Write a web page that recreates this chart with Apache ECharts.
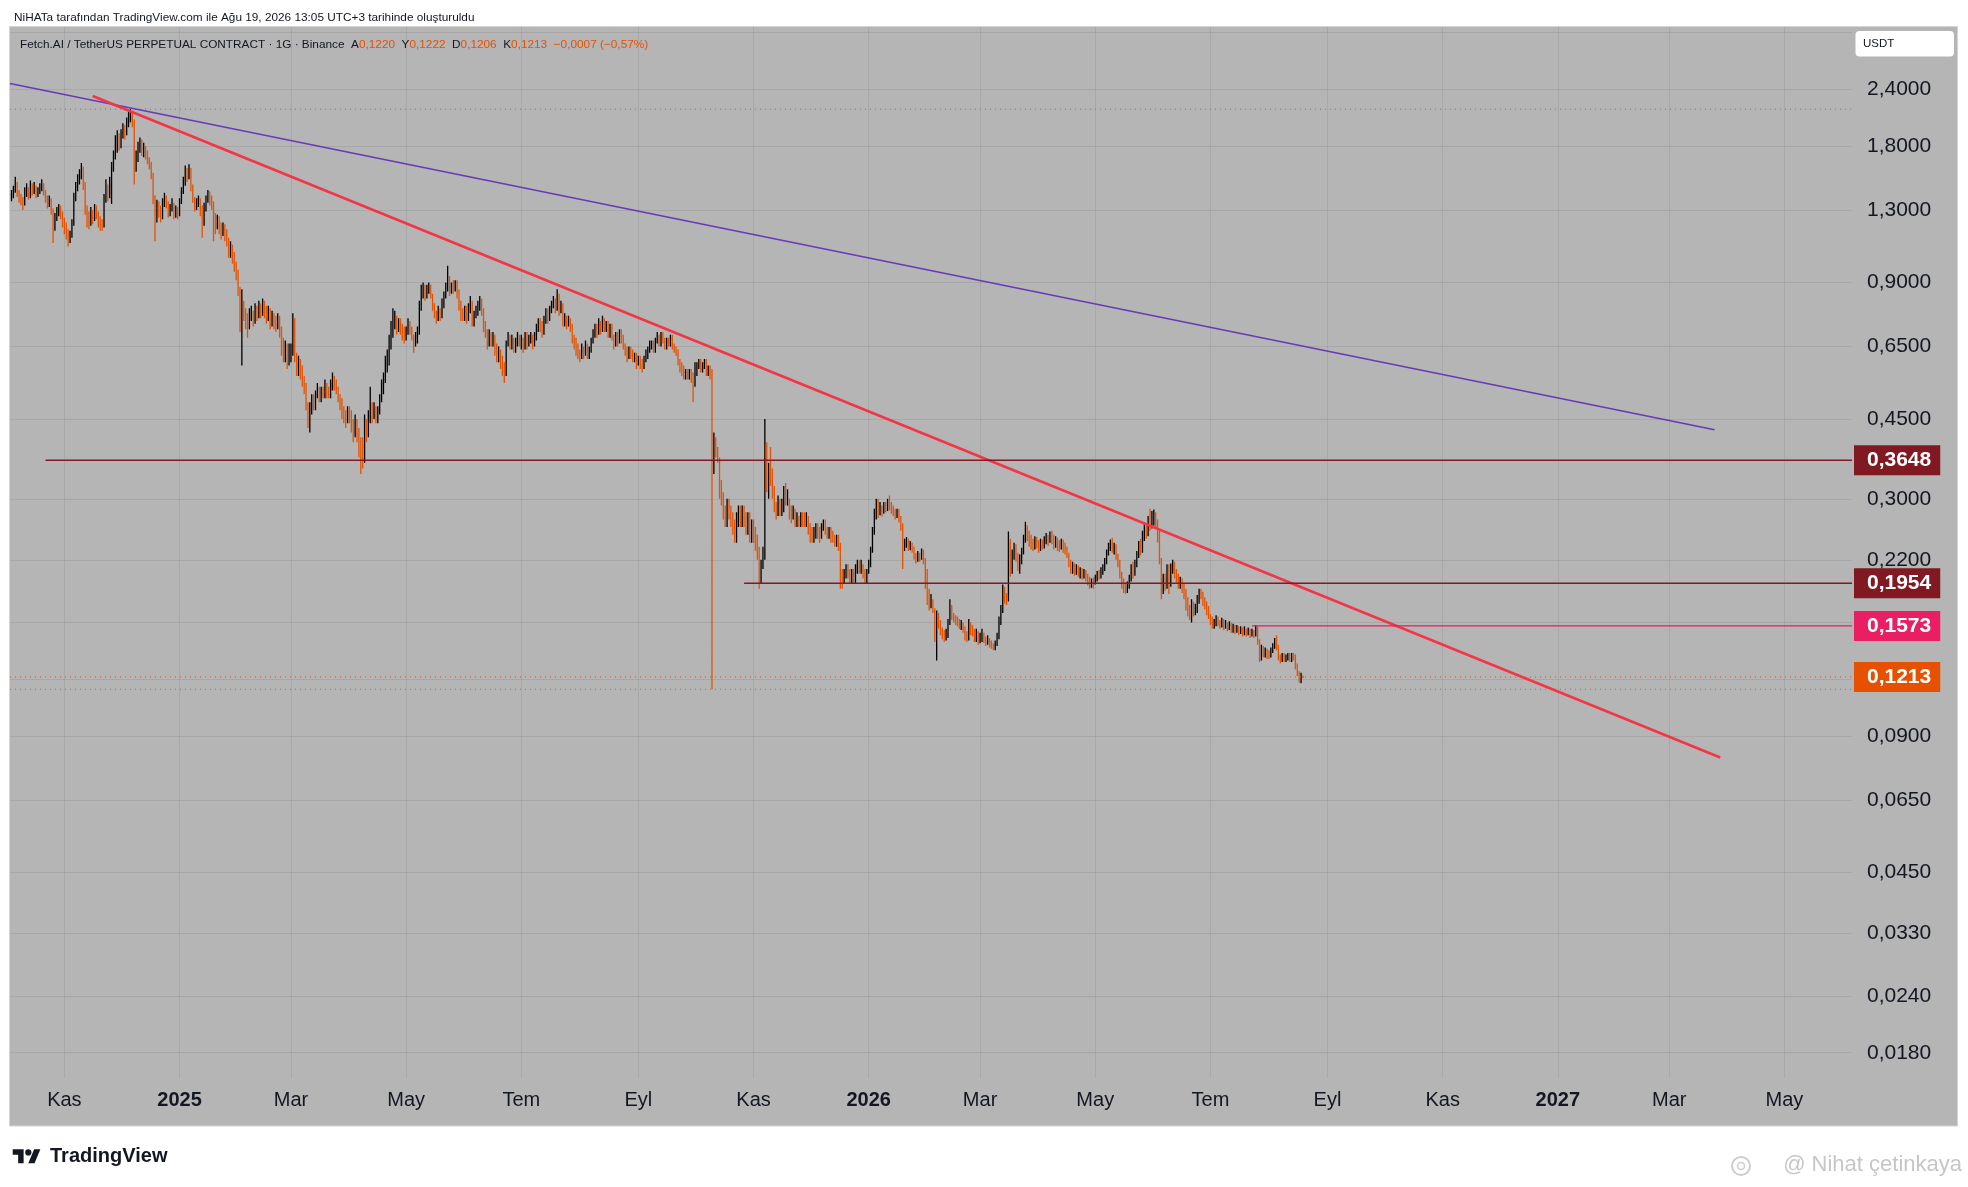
<!doctype html>
<html>
<head>
<meta charset="UTF-8">
<title>Fetch.AI / TetherUS PERPETUAL CONTRACT - 1G</title>
<script src="https://cdn.jsdelivr.net/npm/echarts@6.0.0/dist/echarts.min.js"></script>
<style>
  html, body { margin: 0; padding: 0; background: #ffffff; }
  #main { width: 1968px; height: 1187px; }
</style>
</head>
<body>
<div id="main"></div>
<script>
// daily bars (1G), one row per month; open of a day = previous close
var monthStarts = ['2024-10-04', '2024-11-01', '2024-12-01',
  '2025-01-01', '2025-02-01', '2025-03-01', '2025-04-01', '2025-05-01', '2025-06-01',
  '2025-07-01', '2025-08-01', '2025-09-01', '2025-10-01', '2025-11-01', '2025-12-01',
  '2026-01-01', '2026-02-01', '2026-03-01', '2026-04-01', '2026-05-01', '2026-06-01',
  '2026-07-01', '2026-08-01'];
var firstOpen = 1.40;

var closes = [
  [1.41,1.44,1.48,1.43,1.39,1.37,1.34,1.42,1.45,1.40,1.47,1.43,1.46,1.41,1.43,1.45,1.48,1.42,1.38,1.35,1.37,1.30,1.20,1.25,1.28,1.31,1.27,1.22],
  [1.19,1.16,1.12,1.14,1.21,1.38,1.45,1.52,1.55,1.60,1.48,1.30,1.27,1.22,1.28,1.25,1.31,1.27,1.24,1.22,1.20,1.37,1.45,1.40,1.48,1.60,1.72,1.80,1.86,1.83],
  [1.90,1.97,1.93,2.02,2.08,2.12,2.05,1.62,1.70,1.78,1.82,1.75,1.79,1.72,1.68,1.64,1.55,1.38,1.27,1.33,1.30,1.26,1.34,1.38,1.35,1.28,1.31,1.34,1.27,1.30,1.28],
  [1.36,1.43,1.50,1.58,1.55,1.60,1.46,1.38,1.33,1.35,1.37,1.30,1.22,1.32,1.36,1.40,1.38,1.34,1.25,1.21,1.24,1.20,1.17,1.19,1.15,1.12,1.05,1.08,1.02,0.98,0.94],
  [0.86,0.78,0.80,0.76,0.74,0.72,0.75,0.77,0.74,0.78,0.76,0.79,0.77,0.80,0.78,0.76,0.77,0.73,0.75,0.74,0.72,0.74,0.70,0.66,0.62,0.64,0.61,0.63],
  [0.63,0.74,0.62,0.58,0.60,0.57,0.55,0.53,0.48,0.45,0.47,0.50,0.48,0.51,0.52,0.50,0.52,0.51,0.53,0.52,0.51,0.53,0.55,0.54,0.52,0.50,0.49,0.47,0.46,0.45,0.46],
  [0.45,0.43,0.42,0.44,0.42,0.39,0.38,0.37,0.44,0.42,0.45,0.48,0.46,0.47,0.45,0.47,0.49,0.52,0.55,0.58,0.60,0.65,0.69,0.73,0.74,0.71,0.73,0.71,0.70,0.68],
  [0.70,0.73,0.71,0.68,0.66,0.67,0.70,0.80,0.85,0.88,0.84,0.86,0.88,0.84,0.80,0.77,0.75,0.78,0.76,0.80,0.84,0.88,0.91,0.86,0.88,0.87,0.89,0.86,0.80,0.77,0.76],
  [0.78,0.75,0.79,0.81,0.74,0.76,0.78,0.80,0.82,0.78,0.72,0.70,0.66,0.69,0.67,0.68,0.64,0.62,0.63,0.60,0.58,0.57,0.66,0.68,0.66,0.67,0.65,0.66,0.68,0.66],
  [0.67,0.65,0.69,0.66,0.67,0.68,0.66,0.68,0.71,0.73,0.72,0.70,0.74,0.77,0.75,0.78,0.80,0.82,0.79,0.84,0.78,0.80,0.74,0.75,0.73,0.74,0.72,0.68,0.66,0.65,0.63],
  [0.62,0.64,0.63,0.65,0.62,0.64,0.67,0.69,0.71,0.70,0.73,0.70,0.74,0.71,0.73,0.69,0.72,0.68,0.66,0.69,0.67,0.70,0.68,0.65,0.63,0.62,0.64,0.63,0.61,0.62,0.60],
  [0.61,0.60,0.59,0.61,0.62,0.64,0.65,0.66,0.64,0.67,0.68,0.66,0.69,0.67,0.65,0.67,0.66,0.68,0.65,0.64,0.63,0.60,0.59,0.58,0.56,0.57,0.56,0.57,0.56,0.52],
  [0.57,0.59,0.60,0.58,0.59,0.60,0.57,0.58,0.56,0.37,0.40,0.39,0.37,0.32,0.30,0.28,0.27,0.29,0.28,0.27,0.26,0.25,0.27,0.28,0.27,0.28,0.27,0.26,0.27,0.25,0.26],
  [0.25,0.24,0.23,0.20,0.21,0.225,0.38,0.33,0.35,0.34,0.31,0.29,0.28,0.30,0.28,0.29,0.31,0.30,0.30,0.28,0.275,0.28,0.27,0.27,0.265,0.275,0.27,0.265,0.27,0.26],
  [0.255,0.245,0.25,0.26,0.255,0.25,0.26,0.265,0.255,0.25,0.255,0.25,0.245,0.24,0.245,0.235,0.205,0.20,0.205,0.21,0.205,0.20,0.205,0.20,0.21,0.215,0.21,0.215,0.205,0.20,0.205],
  [0.215,0.23,0.255,0.275,0.29,0.28,0.285,0.28,0.29,0.285,0.295,0.29,0.285,0.28,0.275,0.28,0.27,0.26,0.235,0.24,0.243,0.235,0.238,0.232,0.225,0.22,0.226,0.222,0.23,0.22,0.205],
  [0.18,0.175,0.178,0.17,0.15,0.165,0.16,0.153,0.151,0.148,0.15,0.16,0.172,0.165,0.163,0.161,0.16,0.158,0.158,0.155,0.15,0.148,0.158,0.155,0.152,0.148,0.15,0.147],
  [0.148,0.15,0.146,0.145,0.147,0.144,0.142,0.14,0.143,0.148,0.162,0.17,0.19,0.182,0.18,0.25,0.21,0.225,0.235,0.225,0.215,0.222,0.23,0.245,0.26,0.25,0.245,0.24,0.238,0.245,0.24],
  [0.235,0.24,0.237,0.242,0.248,0.245,0.25,0.244,0.238,0.243,0.24,0.236,0.241,0.237,0.232,0.225,0.218,0.21,0.213,0.208,0.212,0.206,0.209,0.203,0.207,0.201,0.198,0.195,0.198,0.196],
  [0.2,0.205,0.203,0.208,0.212,0.218,0.228,0.235,0.24,0.232,0.236,0.225,0.218,0.205,0.198,0.192,0.19,0.193,0.2,0.21,0.205,0.215,0.225,0.238,0.23,0.248,0.26,0.252,0.268,0.262,0.27],
  [0.275,0.265,0.245,0.22,0.19,0.2,0.195,0.21,0.2,0.212,0.215,0.207,0.2,0.196,0.198,0.19,0.185,0.178,0.17,0.168,0.175,0.17,0.172,0.18,0.188,0.183,0.178,0.175,0.17,0.166],
  [0.162,0.158,0.16,0.163,0.16,0.158,0.161,0.157,0.159,0.156,0.158,0.155,0.157,0.154,0.156,0.153,0.155,0.152,0.154,0.151,0.153,0.15,0.152,0.15,0.156,0.145,0.135,0.14,0.137,0.138,0.136],
  [0.135,0.139,0.142,0.146,0.141,0.134,0.132,0.135,0.133,0.134,0.136,0.133,0.135,0.134,0.128,0.123,0.119,0.122,0.1213]
];

var highs = [
  [1.44,1.47,1.54,1.50,1.44,1.41,1.39,1.46,1.49,1.46,1.51,1.49,1.50,1.47,1.46,1.49,1.52,1.49,1.44,1.40,1.40,1.38,1.31,1.28,1.32,1.34,1.33,1.29],
  [1.25,1.22,1.18,1.17,1.24,1.42,1.50,1.56,1.60,1.65,1.62,1.50,1.33,1.29,1.32,1.30,1.34,1.33,1.29,1.26,1.24,1.41,1.52,1.48,1.54,1.66,1.76,1.90,1.95,1.92],
  [1.96,2.02,2.00,2.08,2.14,2.17,2.14,2.06,1.76,1.84,1.88,1.86,1.83,1.80,1.76,1.70,1.66,1.57,1.40,1.37,1.36,1.33,1.38,1.42,1.40,1.36,1.34,1.38,1.35,1.33,1.32],
  [1.38,1.46,1.54,1.63,1.61,1.64,1.61,1.48,1.39,1.38,1.40,1.38,1.33,1.35,1.40,1.44,1.43,1.40,1.36,1.28,1.27,1.26,1.22,1.22,1.21,1.18,1.13,1.11,1.09,1.05,1.00],
  [0.96,0.88,0.87,0.82,0.79,0.77,0.79,0.80,0.78,0.81,0.80,0.82,0.81,0.83,0.82,0.80,0.80,0.79,0.78,0.77,0.76,0.77,0.76,0.72,0.68,0.67,0.66,0.66],
  [0.66,0.77,0.75,0.63,0.62,0.61,0.59,0.56,0.54,0.49,0.49,0.51,0.51,0.52,0.54,0.53,0.53,0.53,0.55,0.54,0.53,0.55,0.57,0.56,0.55,0.53,0.51,0.50,0.48,0.47,0.48],
  [0.48,0.47,0.45,0.46,0.45,0.43,0.41,0.41,0.46,0.45,0.47,0.53,0.49,0.49,0.48,0.48,0.51,0.55,0.57,0.62,0.64,0.69,0.74,0.79,0.78,0.76,0.75,0.75,0.73,0.72],
  [0.72,0.75,0.74,0.72,0.69,0.70,0.72,0.82,0.89,0.90,0.89,0.89,0.90,0.89,0.85,0.81,0.78,0.80,0.79,0.83,0.86,0.90,0.98,0.93,0.90,0.91,0.91,0.91,0.87,0.82,0.79],
  [0.80,0.80,0.81,0.84,0.82,0.78,0.80,0.82,0.84,0.83,0.79,0.74,0.71,0.71,0.70,0.70,0.69,0.66,0.65,0.64,0.62,0.60,0.67,0.70,0.69,0.69,0.68,0.68,0.70,0.69],
  [0.69,0.68,0.70,0.70,0.69,0.70,0.69,0.70,0.73,0.75,0.75,0.74,0.76,0.79,0.79,0.80,0.82,0.84,0.83,0.87,0.85,0.82,0.81,0.77,0.76,0.76,0.75,0.73,0.69,0.68,0.66],
  [0.64,0.66,0.65,0.67,0.66,0.65,0.68,0.71,0.73,0.73,0.75,0.74,0.76,0.75,0.74,0.74,0.73,0.73,0.69,0.70,0.70,0.71,0.71,0.69,0.66,0.65,0.65,0.65,0.64,0.63,0.63],
  [0.62,0.62,0.61,0.62,0.64,0.65,0.67,0.67,0.67,0.68,0.70,0.69,0.70,0.70,0.68,0.68,0.68,0.69,0.69,0.66,0.65,0.64,0.61,0.60,0.59,0.58,0.58,0.58,0.58,0.57],
  [0.60,0.60,0.61,0.61,0.60,0.61,0.61,0.59,0.59,0.58,0.42,0.41,0.39,0.37,0.33,0.31,0.29,0.30,0.30,0.29,0.28,0.27,0.28,0.29,0.29,0.29,0.29,0.28,0.28,0.28,0.27],
  [0.27,0.26,0.25,0.235,0.22,0.235,0.45,0.40,0.36,0.39,0.35,0.32,0.295,0.305,0.30,0.30,0.32,0.325,0.315,0.30,0.29,0.29,0.285,0.28,0.275,0.28,0.28,0.28,0.28,0.275],
  [0.265,0.26,0.26,0.265,0.265,0.26,0.265,0.27,0.27,0.26,0.26,0.26,0.255,0.25,0.25,0.25,0.24,0.21,0.21,0.215,0.215,0.21,0.21,0.21,0.215,0.22,0.22,0.22,0.215,0.21,0.21],
  [0.22,0.235,0.26,0.285,0.30,0.30,0.295,0.29,0.295,0.295,0.30,0.305,0.295,0.29,0.285,0.285,0.285,0.275,0.265,0.245,0.247,0.245,0.242,0.24,0.235,0.228,0.23,0.228,0.233,0.232,0.222],
  [0.21,0.19,0.185,0.18,0.172,0.17,0.168,0.162,0.156,0.154,0.155,0.163,0.18,0.175,0.168,0.166,0.165,0.163,0.162,0.16,0.157,0.153,0.163,0.16,0.158,0.155,0.155,0.153],
  [0.152,0.155,0.152,0.149,0.15,0.148,0.146,0.144,0.146,0.152,0.165,0.175,0.194,0.192,0.186,0.254,0.245,0.232,0.24,0.238,0.228,0.226,0.234,0.25,0.267,0.262,0.255,0.25,0.245,0.248,0.247],
  [0.243,0.245,0.244,0.248,0.252,0.25,0.254,0.255,0.25,0.248,0.246,0.243,0.245,0.244,0.24,0.235,0.228,0.22,0.218,0.216,0.215,0.214,0.212,0.211,0.21,0.209,0.205,0.202,0.2,0.201],
  [0.204,0.208,0.209,0.212,0.215,0.222,0.232,0.24,0.244,0.246,0.24,0.238,0.227,0.22,0.207,0.2,0.196,0.197,0.204,0.215,0.218,0.22,0.23,0.242,0.245,0.255,0.266,0.265,0.275,0.285,0.282],
  [0.284,0.28,0.27,0.255,0.222,0.205,0.205,0.215,0.215,0.216,0.22,0.218,0.21,0.205,0.202,0.2,0.195,0.19,0.182,0.175,0.18,0.178,0.176,0.184,0.19,0.19,0.187,0.182,0.178,0.174],
  [0.167,0.165,0.163,0.166,0.165,0.162,0.164,0.163,0.162,0.16,0.161,0.16,0.159,0.158,0.158,0.157,0.157,0.156,0.157,0.155,0.156,0.155,0.155,0.154,0.158,0.157,0.147,0.143,0.142,0.141,0.14],
  [0.139,0.141,0.144,0.148,0.15,0.143,0.136,0.137,0.137,0.136,0.137,0.137,0.137,0.137,0.136,0.13,0.125,0.124,0.1222]
];

var lows = [
  [1.36,1.38,1.42,1.39,1.35,1.33,1.30,1.33,1.39,1.37,1.38,1.40,1.41,1.38,1.39,1.41,1.43,1.40,1.35,1.31,1.32,1.27,1.10,1.17,1.23,1.26,1.24,1.19],
  [1.15,1.12,1.08,1.10,1.13,1.20,1.36,1.43,1.48,1.52,1.44,1.27,1.19,1.18,1.20,1.21,1.23,1.24,1.19,1.17,1.17,1.19,1.35,1.36,1.38,1.34,1.58,1.68,1.74,1.76],
  [1.78,1.87,1.86,1.90,1.98,2.03,1.98,1.48,1.58,1.66,1.74,1.71,1.70,1.68,1.64,1.60,1.52,1.34,1.11,1.22,1.25,1.22,1.24,1.32,1.31,1.25,1.26,1.29,1.24,1.25,1.24],
  [1.26,1.34,1.41,1.47,1.50,1.52,1.43,1.35,1.29,1.30,1.32,1.26,1.13,1.20,1.29,1.35,1.33,1.30,1.11,1.15,1.18,1.15,1.12,1.14,1.11,1.08,1.02,1.02,0.99,0.95,0.91],
  [0.84,0.70,0.59,0.74,0.71,0.68,0.71,0.74,0.72,0.73,0.74,0.75,0.75,0.76,0.75,0.73,0.74,0.71,0.72,0.71,0.70,0.71,0.68,0.62,0.60,0.60,0.58,0.59],
  [0.60,0.62,0.60,0.56,0.56,0.55,0.53,0.51,0.47,0.43,0.42,0.46,0.47,0.47,0.50,0.49,0.49,0.50,0.50,0.50,0.50,0.50,0.52,0.52,0.51,0.49,0.47,0.45,0.44,0.43,0.44],
  [0.44,0.42,0.40,0.41,0.40,0.37,0.34,0.35,0.36,0.40,0.41,0.44,0.44,0.45,0.44,0.44,0.46,0.49,0.51,0.54,0.57,0.59,0.64,0.68,0.71,0.69,0.70,0.69,0.67,0.66],
  [0.67,0.69,0.69,0.67,0.63,0.65,0.66,0.69,0.78,0.83,0.82,0.83,0.85,0.83,0.78,0.75,0.73,0.74,0.74,0.75,0.79,0.83,0.86,0.84,0.85,0.85,0.86,0.83,0.78,0.74,0.74],
  [0.74,0.73,0.74,0.77,0.72,0.72,0.75,0.76,0.78,0.76,0.70,0.68,0.64,0.65,0.65,0.65,0.62,0.60,0.60,0.58,0.56,0.54,0.56,0.65,0.64,0.64,0.63,0.63,0.65,0.65],
  [0.64,0.63,0.64,0.64,0.65,0.66,0.64,0.65,0.67,0.70,0.70,0.68,0.69,0.73,0.73,0.74,0.77,0.79,0.77,0.78,0.76,0.77,0.72,0.72,0.71,0.72,0.70,0.66,0.64,0.62,0.61],
  [0.60,0.61,0.61,0.62,0.61,0.61,0.63,0.66,0.68,0.68,0.69,0.69,0.70,0.70,0.70,0.68,0.68,0.67,0.64,0.65,0.65,0.66,0.66,0.64,0.62,0.60,0.61,0.61,0.60,0.60,0.58],
  [0.59,0.58,0.57,0.58,0.60,0.61,0.63,0.64,0.63,0.63,0.66,0.65,0.65,0.66,0.64,0.64,0.65,0.65,0.64,0.63,0.62,0.59,0.57,0.56,0.55,0.55,0.55,0.55,0.54,0.49],
  [0.53,0.56,0.58,0.57,0.57,0.58,0.56,0.56,0.55,0.114,0.34,0.37,0.36,0.30,0.29,0.27,0.26,0.26,0.27,0.26,0.25,0.24,0.24,0.26,0.26,0.26,0.26,0.25,0.25,0.24,0.24],
  [0.24,0.23,0.22,0.19,0.195,0.21,0.22,0.31,0.30,0.32,0.30,0.28,0.27,0.275,0.275,0.275,0.28,0.29,0.29,0.27,0.265,0.27,0.26,0.26,0.26,0.26,0.26,0.26,0.26,0.25],
  [0.24,0.24,0.24,0.245,0.245,0.24,0.245,0.255,0.25,0.245,0.245,0.24,0.24,0.235,0.235,0.23,0.19,0.19,0.195,0.20,0.20,0.195,0.195,0.195,0.195,0.205,0.205,0.205,0.20,0.195,0.195],
  [0.205,0.212,0.228,0.25,0.27,0.272,0.276,0.274,0.278,0.28,0.282,0.283,0.278,0.275,0.27,0.272,0.266,0.255,0.21,0.23,0.234,0.23,0.231,0.228,0.22,0.216,0.218,0.218,0.22,0.215,0.19],
  [0.175,0.17,0.172,0.168,0.145,0.132,0.155,0.15,0.147,0.145,0.146,0.148,0.158,0.162,0.16,0.158,0.157,0.155,0.154,0.152,0.146,0.145,0.146,0.15,0.149,0.145,0.145,0.143],
  [0.144,0.145,0.144,0.142,0.143,0.141,0.14,0.139,0.139,0.142,0.147,0.158,0.168,0.176,0.175,0.178,0.202,0.205,0.22,0.218,0.208,0.205,0.215,0.226,0.24,0.242,0.235,0.232,0.23,0.232,0.233],
  [0.228,0.23,0.232,0.233,0.238,0.236,0.24,0.238,0.232,0.234,0.23,0.229,0.232,0.228,0.226,0.222,0.212,0.205,0.205,0.203,0.204,0.202,0.2,0.199,0.2,0.197,0.193,0.19,0.191,0.19],
  [0.194,0.197,0.199,0.2,0.204,0.208,0.215,0.225,0.23,0.228,0.226,0.22,0.212,0.2,0.19,0.186,0.185,0.186,0.19,0.197,0.2,0.203,0.212,0.222,0.225,0.228,0.242,0.245,0.248,0.255,0.258],
  [0.262,0.258,0.24,0.215,0.18,0.185,0.188,0.19,0.185,0.192,0.205,0.2,0.196,0.19,0.19,0.186,0.18,0.17,0.165,0.162,0.16,0.165,0.166,0.168,0.176,0.18,0.174,0.171,0.166,0.163],
  [0.158,0.155,0.155,0.157,0.157,0.155,0.156,0.154,0.155,0.153,0.154,0.152,0.152,0.151,0.152,0.15,0.151,0.149,0.15,0.149,0.15,0.148,0.149,0.148,0.149,0.143,0.131,0.132,0.134,0.134,0.133],
  [0.133,0.134,0.137,0.14,0.139,0.132,0.13,0.131,0.131,0.131,0.132,0.131,0.131,0.132,0.126,0.122,0.118,0.1175,0.1206]
];

// drawn levels and trend lines: [date, price]
var purpleTrend = [['2024-10-03T05:00:00Z', 2.473], ['2027-03-25T00:00:00Z', 0.426]];
var redTrend = [['2024-11-16T00:00:00Z', 2.32], ['2027-03-28T00:00:00Z', 0.0806]];
var levelLines = [
  { start: '2024-10-22', price: 0.3648, color: '#801922' },
  { start: '2025-10-27', price: 0.1954, color: '#801922' },
  { start: '2026-07-23', price: 0.1573, color: '#e91e63' }
];

// axis ticks
var timeTicks = ['2024-11-01', '2025-01-01', '2025-03-01', '2025-05-01', '2025-07-01', '2025-09-01',
  '2025-11-01', '2026-01-01', '2026-03-01', '2026-05-01', '2026-07-01', '2026-09-01',
  '2026-11-01', '2027-01-01', '2027-03-01', '2027-05-01'];
var monthNames = ['Oca', 'Şub', 'Mar', 'Nis', 'May', 'Haz', 'Tem', 'Ağu', 'Eyl', 'Eki', 'Kas', 'Ara'];
var priceLabels = [0.018, 0.024, 0.033, 0.045, 0.065, 0.09, 0.22, 0.3, 0.45, 0.65, 0.9, 1.3, 1.8, 2.4];
var priceGrid = [0.018, 0.024, 0.033, 0.045, 0.065, 0.09, 0.12, 0.16, 0.22, 0.3, 0.45, 0.65, 0.9, 1.3, 1.8, 2.4, 3.2];

var DAY = 86400000;
var UP = '#000000';
var DOWN = '#e65100';
var TXT = '#131722';
var FONT = '"Liberation Sans", Arial, sans-serif';

function ts(s) { return Date.parse(s.length === 10 ? s + 'T00:00:00Z' : s); }
function lg(p) { return Math.log(p); }
function fmt(p) { return p.toFixed(4).replace('.', ','); }

var jan1 = ts('2025-01-01');
var xMin = jan1 - 89.8 * DAY;
var xMax = jan1 + 885.8 * DAY;
var yMin = 0.01583;
var yMax = 3.294;

// build OHLC rows
var bars = [];
var prev = firstOpen;
monthStarts.forEach(function (s, m) {
  var t0 = ts(s);
  closes[m].forEach(function (c, i) {
    bars.push([t0 + i * DAY, prev, c, lows[m][i], highs[m][i]]);
    prev = c;
  });
});
var candleData = bars.map(function (b) { return [b[0], lg(b[1]), lg(b[2]), lg(b[3]), lg(b[4])]; });
var last = bars[bars.length - 1];
var prevClose = bars[bars.length - 2][2];
var maxHigh = Math.max.apply(null, bars.map(function (b) { return b[4]; }));
var minLow = Math.min.apply(null, bars.map(function (b) { return b[3]; }));
var chg = last[2] - prevClose;
var chgPct = chg / prevClose * 100;
function signed(v, d) { return (v < 0 ? '\u2212' : '+') + Math.abs(v).toFixed(d).replace('.', ','); }

function toLine(pts) { return pts.map(function (p) { return [ts(p[0]), lg(p[1])]; }); }

var boxLabel = function (text, bg) {
  return {
    show: true, formatter: text, color: '#ffffff', backgroundColor: bg,
    fontSize: 21, fontWeight: 'bold', fontFamily: FONT, lineHeight: 21,
    padding: [5, 9, 4, 13], distance: 2
  };
};

var series = [
  {
    type: 'candlestick', name: 'FETUSDT.P', data: candleData,
    large: true, largeThreshold: 100,
    itemStyle: { color: UP, color0: DOWN, borderColor: UP, borderColor0: DOWN, borderWidth: 1.3 },
    z: 2
  },
  {
    type: 'line', name: 'high', data: [[xMin, lg(maxHigh)], [xMax, lg(maxHigh)]],
    symbol: 'none', lineStyle: { color: '#7b7b7b', width: 1, type: [1, 4] }, z: 1, silent: true
  },
  {
    type: 'line', name: 'low', data: [[xMin, lg(minLow)], [xMax, lg(minLow)]],
    symbol: 'none', lineStyle: { color: '#7b7b7b', width: 1, type: [1, 4] }, z: 1, silent: true
  },
  {
    type: 'line', name: 'purple', data: toLine(purpleTrend), symbol: 'none',
    lineStyle: { color: '#673ab7', width: 1.6 }, z: 4, silent: true
  },
  {
    type: 'line', name: 'red', data: toLine(redTrend), symbol: 'none',
    lineStyle: { color: '#f23645', width: 2.6 }, z: 4, silent: true
  }
];

levelLines.forEach(function (lv) {
  series.push({
    type: 'line', name: 'level ' + lv.price, clip: false, symbol: 'none', silent: true,
    data: [[ts(lv.start), lg(lv.price)], [xMax, lg(lv.price)]],
    lineStyle: { color: lv.color, width: 1.4 },
    endLabel: boxLabel(fmt(lv.price), lv.color),
    z: 4
  });
});

series.push({
  type: 'line', name: 'last', clip: false, symbol: 'none', silent: true,
  data: [[xMin, lg(last[2])], [xMax, lg(last[2])]],
  lineStyle: { color: DOWN, width: 1, type: [1, 4] },
  endLabel: boxLabel(fmt(last[2]), DOWN),
  z: 5
});

var tickTimes = timeTicks.map(ts);

var option = {
  animation: false,
  backgroundColor: '#ffffff',
  textStyle: { fontFamily: FONT },
  title: [
    {
      left: 9, top: 7,
      text: 'NiHATa tarafından TradingView.com ile Ağu 19, 2026 13:05 UTC+3 tarihinde oluşturuldu',
      textStyle: { fontSize: 11.8, fontWeight: 'normal', color: TXT, fontFamily: FONT }
    },
    {
      left: 15, top: 34,
      text: '{t|Fetch.AI / TetherUS PERPETUAL CONTRACT \u00b7 1G \u00b7 Binance}  ' +
        '{k|A}{v|' + fmt(last[1]) + '}  {k|Y}{v|' + fmt(last[4]) + '}  ' +
        '{k|D}{v|' + fmt(last[3]) + '}  {k|K}{v|' + fmt(last[2]) + '}  ' +
        '{v|' + signed(chg, 4) + ' (' + signed(chgPct, 2) + '%)}',
      textStyle: {
        fontSize: 11.8, fontWeight: 'normal', fontFamily: FONT,
        rich: {
          t: { fontSize: 11.8, fontWeight: 'normal', color: TXT, fontFamily: FONT },
          k: { fontSize: 11.8, fontWeight: 'normal', color: TXT, fontFamily: FONT },
          v: { fontSize: 11.8, fontWeight: 'normal', color: DOWN, fontFamily: FONT }
        }
      }
    }
  ],
  grid: { left: 10, right: 116, top: 27, bottom: 109 },
  xAxis: {
    type: 'value', min: xMin, max: xMax,
    axisLine: { show: false },
    axisTick: { show: false, customValues: tickTimes },
    axisLabel: {
      customValues: tickTimes, margin: 12, fontSize: 20, color: TXT, fontFamily: FONT,
      formatter: function (v) {
        var d = new Date(v);
        if (d.getUTCMonth() === 0) return '{yr|' + d.getUTCFullYear() + '}';
        return monthNames[d.getUTCMonth()];
      },
      rich: { yr: { fontSize: 20, fontWeight: 'bold', color: TXT, fontFamily: FONT } }
    },
    splitLine: { show: true, lineStyle: { color: 'rgba(0,0,0,0.07)', width: 1 } }
  },
  yAxis: {
    type: 'value', position: 'right', min: lg(yMin), max: lg(yMax),
    axisLine: { show: false },
    axisTick: { show: false, customValues: priceGrid.map(lg) },
    axisLabel: {
      customValues: priceLabels.map(lg), margin: 15, fontSize: 21, color: TXT, fontFamily: FONT,
      formatter: function (v) { return fmt(Math.exp(v)); }
    },
    splitLine: { show: true, lineStyle: { color: 'rgba(0,0,0,0.07)', width: 1 } }
  },
  graphic: [
    {
      type: 'rect', z: -100, silent: true,
      shape: { x: 9.5, y: 26.5, width: 1948, height: 1099.5 },
      style: { fill: '#b5b5b5', stroke: '#d4d4d4', lineWidth: 1 }
    },
    {
      type: 'rect', z: 10, silent: true,
      shape: { x: 1855.5, y: 31, width: 98.5, height: 25.5, r: 4 },
      style: { fill: '#ffffff' }
    },
    {
      type: 'text', z: 11, silent: true, x: 1863, y: 44,
      style: { text: 'USDT', fill: TXT, font: '11.5px ' + FONT, textVerticalAlign: 'middle' }
    },
    {
      type: 'group', x: 12.7, y: 1146.2, scaleX: 0.78, scaleY: 0.78, silent: true,
      children: [
        { type: 'polygon', shape: { points: [[0, 4], [14, 4], [14, 22], [7, 22], [7, 11], [0, 11]] }, style: { fill: TXT } },
        { type: 'polygon', shape: { points: [[28, 22], [20, 22], [27.5, 4], [35.5, 4]] }, style: { fill: TXT } },
        { type: 'circle', shape: { cx: 20, cy: 8, r: 4 }, style: { fill: TXT } }
      ]
    },
    {
      type: 'text', z: 10, silent: true, x: 50, y: 1156,
      style: { text: 'TradingView', fill: TXT, font: 'bold 20px ' + FONT, textVerticalAlign: 'middle' }
    },
    {
      type: 'circle', z: 10, silent: true, shape: { cx: 1741, cy: 1166, r: 9 },
      style: { fill: 'none', stroke: '#cdcdcd', lineWidth: 2 }
    },
    {
      type: 'circle', z: 10, silent: true, shape: { cx: 1741, cy: 1166, r: 3.5 },
      style: { fill: 'none', stroke: '#cdcdcd', lineWidth: 1.5 }
    },
    {
      type: 'text', z: 10, silent: true, x: 1962, y: 1165,
      style: { text: '@ Nihat çetinkaya', fill: '#c6c6c6', font: '22px ' + FONT, textAlign: 'right', textVerticalAlign: 'middle' }
    }
  ],
  series: series
};

var chart = echarts.init(document.getElementById('main'), null, { renderer: 'canvas' });
chart.setOption(option);
</script>
</body>
</html>
